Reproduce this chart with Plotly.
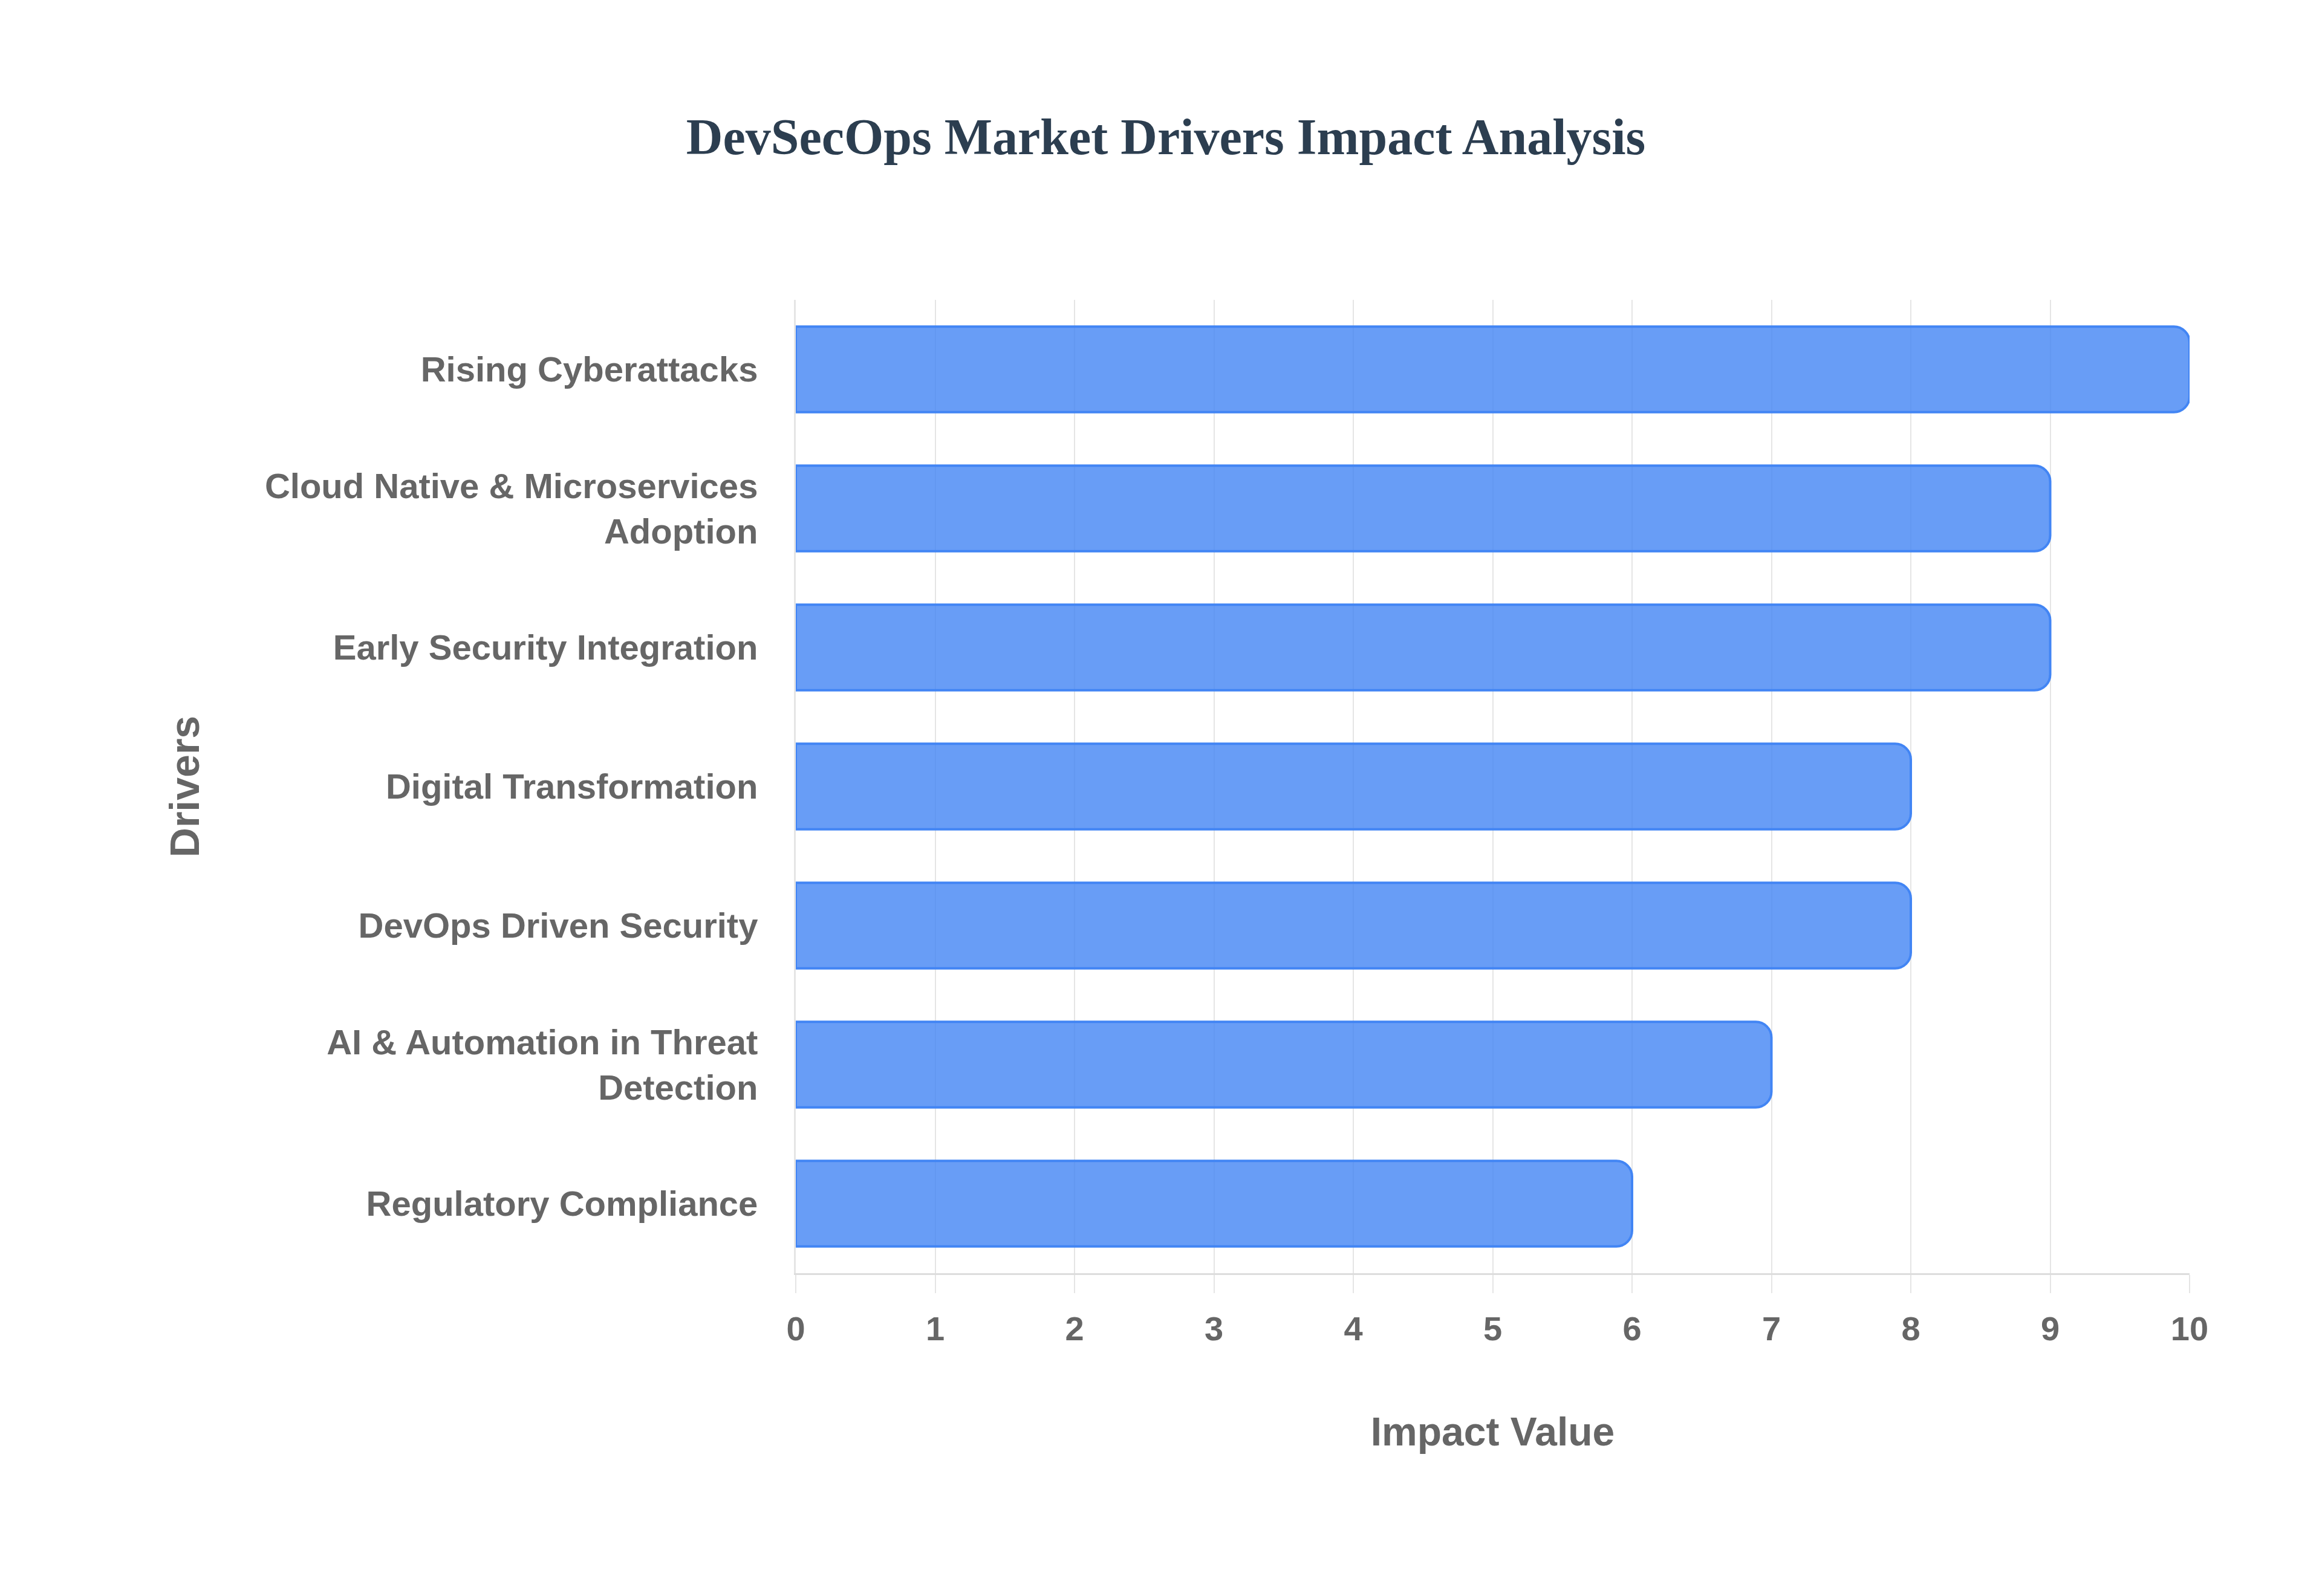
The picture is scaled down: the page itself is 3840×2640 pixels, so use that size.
import plotly.graph_objects as go

drivers = [
    "Rising Cyberattacks",
    "Cloud Native & Microservices<br>Adoption",
    "Early Security Integration",
    "Digital Transformation",
    "DevOps Driven Security",
    "AI & Automation in Threat<br>Detection",
    "Regulatory Compliance",
]
impact_values = [10, 9, 9, 8, 8, 7, 6]
x_ticks = [0, 1, 2, 3, 4, 5, 6, 7, 8, 9, 10]

TICK_COLOR = "#666666"
GRID_COLOR = "#e5e5e5"
SANS = "Liberation Sans, Arial, sans-serif"

fig = go.Figure(
    go.Bar(
        x=impact_values,
        y=drivers,
        orientation="h",
        marker=dict(
            color="rgba(66,133,244,0.8)",
            line=dict(color="rgba(66,133,244,1)", width=4),
            cornerradius=26,
        ),
        width=0.615,
    )
)

fig.update_layout(
    width=3840,
    height=2640,
    paper_bgcolor="white",
    plot_bgcolor="white",
    showlegend=False,
    margin=dict(l=1308, r=227, t=488, b=542),
    title=dict(
        text="DevSecOps Market Drivers Impact Analysis",
        x=0.5,
        xanchor="center",
        xref="container",
        y=1 - 218 / 2640,
        yanchor="middle",
        yref="container",
        font=dict(family="Liberation Serif, Times New Roman, serif", size=84,
                  color="#2c3e50", weight="bold"),
    ),
    xaxis=dict(
        range=[0, 10],
        tickvals=x_ticks,
        ticktext=[str(v) for v in x_ticks],
        showgrid=True,
        gridcolor=GRID_COLOR,
        gridwidth=2,
        zeroline=False,
        showline=True,
        linecolor="#dddddd",
        linewidth=3,
        ticks="outside",
        ticklen=30,
        tickwidth=2,
        tickcolor=GRID_COLOR,
        ticklabelstandoff=11,
        tickfont=dict(family=SANS, size=56, color=TICK_COLOR, weight="bold"),
        title=dict(text="Impact Value", standoff=117,
                   font=dict(family=SANS, size=66, color=TICK_COLOR, weight="bold")),
    ),
    yaxis=dict(
        categoryorder="array",
        categoryarray=drivers,
        autorange="reversed",
        showgrid=False,
        zeroline=False,
        showline=True,
        linecolor=GRID_COLOR,
        linewidth=3,
        ticks="",
        ticklabelstandoff=48,
        tickfont=dict(family=SANS, size=58, color=TICK_COLOR, weight="bold"),
        title=dict(text="Drivers", standoff=87,
                   font=dict(family=SANS, size=68, color=TICK_COLOR, weight="bold")),
    ),
)

fig.write_html("out.html")
